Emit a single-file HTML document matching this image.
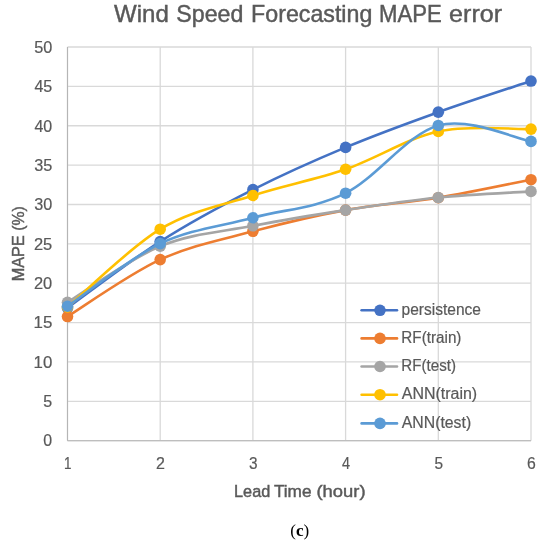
<!DOCTYPE html>
<html lang="en"><head><meta charset="utf-8"><title>Wind Speed Forecasting MAPE error</title>
<style>
html,body{margin:0;padding:0;background:#fff;}
body{width:550px;height:547px;overflow:hidden;}
svg{display:block;font-family:"Liberation Sans",sans-serif;}
svg text{stroke:#595959;stroke-width:0.2px;}
svg text.b{stroke-width:0.45px;}
svg text.cap{stroke:none;}
</style></head><body>
<svg width="550" height="547" viewBox="0 0 550 547">
<rect width="550" height="547" fill="#fff"/>
<g stroke="#d9d9d9" stroke-width="1.3" fill="none">
<line x1="67.50" y1="440.70" x2="531.00" y2="440.70"/>
<line x1="67.50" y1="401.33" x2="531.00" y2="401.33"/>
<line x1="67.50" y1="361.96" x2="531.00" y2="361.96"/>
<line x1="67.50" y1="322.59" x2="531.00" y2="322.59"/>
<line x1="67.50" y1="283.22" x2="531.00" y2="283.22"/>
<line x1="67.50" y1="243.85" x2="531.00" y2="243.85"/>
<line x1="67.50" y1="204.48" x2="531.00" y2="204.48"/>
<line x1="67.50" y1="165.11" x2="531.00" y2="165.11"/>
<line x1="67.50" y1="125.74" x2="531.00" y2="125.74"/>
<line x1="67.50" y1="86.37" x2="531.00" y2="86.37"/>
<line x1="67.50" y1="47.00" x2="531.00" y2="47.00"/>
<line x1="67.50" y1="47.00" x2="67.50" y2="440.70"/>
<line x1="160.20" y1="47.00" x2="160.20" y2="440.70"/>
<line x1="252.90" y1="47.00" x2="252.90" y2="440.70"/>
<line x1="345.60" y1="47.00" x2="345.60" y2="440.70"/>
<line x1="438.30" y1="47.00" x2="438.30" y2="440.70"/>
<line x1="531.00" y1="47.00" x2="531.00" y2="440.70"/>
</g>
<g stroke="#b5b5b5" stroke-width="1.05" fill="none">
<line x1="67.50" y1="47.00" x2="67.50" y2="440.70"/>
<line x1="67.50" y1="440.70" x2="531.00" y2="440.70"/>
</g>
<path d="M67.50,307.88 C82.95,296.82 129.30,261.24 160.20,241.54 C191.10,221.84 222.00,205.36 252.90,189.67 C283.80,173.97 314.70,160.30 345.60,147.38 C376.50,134.46 407.40,123.22 438.30,112.17 C469.20,101.11 515.55,86.23 531.00,81.04" fill="none" stroke="#4472c4" stroke-width="2.60" stroke-linecap="round" stroke-linejoin="round"/>
<circle cx="67.50" cy="307.88" r="5.80" fill="#4472c4"/>
<circle cx="160.20" cy="241.54" r="5.80" fill="#4472c4"/>
<circle cx="252.90" cy="189.67" r="5.80" fill="#4472c4"/>
<circle cx="345.60" cy="147.38" r="5.80" fill="#4472c4"/>
<circle cx="438.30" cy="112.17" r="5.80" fill="#4472c4"/>
<circle cx="531.00" cy="81.04" r="5.80" fill="#4472c4"/>
<path d="M67.50,316.53 C82.95,307.04 129.30,273.82 160.20,259.62 C191.10,245.42 222.00,239.58 252.90,231.32 C283.80,223.07 314.70,215.71 345.60,210.10 C376.50,204.50 407.40,202.75 438.30,197.68 C469.20,192.61 515.55,182.68 531.00,179.68" fill="none" stroke="#ed7d31" stroke-width="2.60" stroke-linecap="round" stroke-linejoin="round"/>
<circle cx="67.50" cy="316.53" r="5.80" fill="#ed7d31"/>
<circle cx="160.20" cy="259.62" r="5.80" fill="#ed7d31"/>
<circle cx="252.90" cy="231.32" r="5.80" fill="#ed7d31"/>
<circle cx="345.60" cy="210.10" r="5.80" fill="#ed7d31"/>
<circle cx="438.30" cy="197.68" r="5.80" fill="#ed7d31"/>
<circle cx="531.00" cy="179.68" r="5.80" fill="#ed7d31"/>
<path d="M67.50,302.30 C82.95,292.96 129.30,259.00 160.20,246.26 C191.10,233.51 222.00,231.85 252.90,225.82 C283.80,219.80 314.70,214.82 345.60,210.10 C376.50,205.39 407.40,200.64 438.30,197.53 C469.20,194.41 515.55,192.42 531.00,191.40" fill="none" stroke="#a5a5a5" stroke-width="2.60" stroke-linecap="round" stroke-linejoin="round"/>
<circle cx="67.50" cy="302.30" r="5.80" fill="#a5a5a5"/>
<circle cx="160.20" cy="246.26" r="5.80" fill="#a5a5a5"/>
<circle cx="252.90" cy="225.82" r="5.80" fill="#a5a5a5"/>
<circle cx="345.60" cy="210.10" r="5.80" fill="#a5a5a5"/>
<circle cx="438.30" cy="197.53" r="5.80" fill="#a5a5a5"/>
<circle cx="531.00" cy="191.40" r="5.80" fill="#a5a5a5"/>
<path d="M67.50,307.02 C82.95,294.05 129.30,247.79 160.20,229.20 C191.10,210.61 222.00,205.48 252.90,195.48 C283.80,185.49 314.70,179.89 345.60,169.23 C376.50,158.57 407.40,138.18 438.30,131.50 C469.20,124.82 515.55,129.54 531.00,129.14" fill="none" stroke="#ffc000" stroke-width="2.60" stroke-linecap="round" stroke-linejoin="round"/>
<circle cx="67.50" cy="307.02" r="5.80" fill="#ffc000"/>
<circle cx="160.20" cy="229.20" r="5.80" fill="#ffc000"/>
<circle cx="252.90" cy="195.48" r="5.80" fill="#ffc000"/>
<circle cx="345.60" cy="169.23" r="5.80" fill="#ffc000"/>
<circle cx="438.30" cy="131.50" r="5.80" fill="#ffc000"/>
<circle cx="531.00" cy="129.14" r="5.80" fill="#ffc000"/>
<path d="M67.50,306.23 C82.95,295.80 129.30,258.41 160.20,243.66 C191.10,228.91 222.00,226.14 252.90,217.73 C283.80,209.32 314.70,208.58 345.60,193.20 C376.50,177.82 407.40,134.08 438.30,125.45 C469.20,116.82 515.55,138.75 531.00,141.41" fill="none" stroke="#5b9bd5" stroke-width="2.60" stroke-linecap="round" stroke-linejoin="round"/>
<circle cx="67.50" cy="306.23" r="5.80" fill="#5b9bd5"/>
<circle cx="160.20" cy="243.66" r="5.80" fill="#5b9bd5"/>
<circle cx="252.90" cy="217.73" r="5.80" fill="#5b9bd5"/>
<circle cx="345.60" cy="193.20" r="5.80" fill="#5b9bd5"/>
<circle cx="438.30" cy="125.45" r="5.80" fill="#5b9bd5"/>
<circle cx="531.00" cy="141.41" r="5.80" fill="#5b9bd5"/>
<line x1="361.6" y1="310.30" x2="397.0" y2="310.30" stroke="#4472c4" stroke-width="2.60" stroke-linecap="round"/>
<circle cx="380.0" cy="310.30" r="5.80" fill="#4472c4"/>
<text x="401.60" y="314.70" font-size="15.60" fill="#595959" textLength="79.39" lengthAdjust="spacingAndGlyphs">persistence</text>
<line x1="361.6" y1="338.40" x2="397.0" y2="338.40" stroke="#ed7d31" stroke-width="2.60" stroke-linecap="round"/>
<circle cx="380.0" cy="338.40" r="5.80" fill="#ed7d31"/>
<text x="401.35" y="342.80" font-size="15.60" fill="#595959" textLength="60.09" lengthAdjust="spacingAndGlyphs">RF(train)</text>
<line x1="361.6" y1="366.50" x2="397.0" y2="366.50" stroke="#a5a5a5" stroke-width="2.60" stroke-linecap="round"/>
<circle cx="380.0" cy="366.50" r="5.80" fill="#a5a5a5"/>
<text x="401.36" y="370.90" font-size="15.60" fill="#595959" textLength="54.58" lengthAdjust="spacingAndGlyphs">RF(test)</text>
<line x1="361.6" y1="394.70" x2="397.0" y2="394.70" stroke="#ffc000" stroke-width="2.60" stroke-linecap="round"/>
<circle cx="380.0" cy="394.70" r="5.80" fill="#ffc000"/>
<text x="401.77" y="399.10" font-size="15.60" fill="#595959" textLength="75.42" lengthAdjust="spacingAndGlyphs">ANN(train)</text>
<line x1="361.6" y1="423.40" x2="397.0" y2="423.40" stroke="#5b9bd5" stroke-width="2.60" stroke-linecap="round"/>
<circle cx="380.0" cy="423.40" r="5.80" fill="#5b9bd5"/>
<text x="401.77" y="427.80" font-size="15.60" fill="#595959" textLength="69.41" lengthAdjust="spacingAndGlyphs">ANN(test)</text>
<text x="43.38" y="446.40" font-size="15.60" fill="#595959" textLength="8.84" lengthAdjust="spacingAndGlyphs">0</text>
<text x="43.36" y="407.07" font-size="15.60" fill="#595959" textLength="8.91" lengthAdjust="spacingAndGlyphs">5</text>
<text x="33.52" y="367.74" font-size="15.60" fill="#595959" textLength="18.74" lengthAdjust="spacingAndGlyphs">10</text>
<text x="33.51" y="328.41" font-size="15.60" fill="#595959" textLength="18.80" lengthAdjust="spacingAndGlyphs">15</text>
<text x="33.97" y="289.08" font-size="15.60" fill="#595959" textLength="18.27" lengthAdjust="spacingAndGlyphs">20</text>
<text x="33.97" y="249.75" font-size="15.60" fill="#595959" textLength="18.32" lengthAdjust="spacingAndGlyphs">25</text>
<text x="34.18" y="210.42" font-size="15.60" fill="#595959" textLength="18.05" lengthAdjust="spacingAndGlyphs">30</text>
<text x="34.18" y="171.09" font-size="15.60" fill="#595959" textLength="18.10" lengthAdjust="spacingAndGlyphs">35</text>
<text x="34.43" y="131.76" font-size="15.60" fill="#595959" textLength="17.79" lengthAdjust="spacingAndGlyphs">40</text>
<text x="34.43" y="92.43" font-size="15.60" fill="#595959" textLength="17.84" lengthAdjust="spacingAndGlyphs">45</text>
<text x="34.15" y="53.10" font-size="15.60" fill="#595959" textLength="18.09" lengthAdjust="spacingAndGlyphs">50</text>
<text x="63.98" y="469.30" font-size="15.60" fill="#595959" textLength="7.48" lengthAdjust="spacingAndGlyphs">1</text>
<text x="156.14" y="469.30" font-size="15.60" fill="#595959" textLength="8.91" lengthAdjust="spacingAndGlyphs">2</text>
<text x="249.06" y="469.30" font-size="15.60" fill="#595959" textLength="8.56" lengthAdjust="spacingAndGlyphs">3</text>
<text x="342.02" y="469.30" font-size="15.60" fill="#595959" textLength="8.06" lengthAdjust="spacingAndGlyphs">4</text>
<text x="434.43" y="469.30" font-size="15.60" fill="#595959" textLength="8.56" lengthAdjust="spacingAndGlyphs">5</text>
<text x="526.95" y="469.30" font-size="15.60" fill="#595959" textLength="8.80" lengthAdjust="spacingAndGlyphs">6</text>
<text class="b" y="496.60" font-size="17.10" fill="#595959"><tspan x="234.07" textLength="36.18" lengthAdjust="spacingAndGlyphs">Lead</tspan> <tspan x="273.92" textLength="37.63" lengthAdjust="spacingAndGlyphs">Time</tspan> <tspan x="316.46" textLength="49.08" lengthAdjust="spacingAndGlyphs">(hour)</tspan></text>
<text class="b" transform="translate(23.5,279.90) rotate(-90)" y="0.00" font-size="17.10" fill="#595959"><tspan x="-1.33" textLength="45.93" lengthAdjust="spacingAndGlyphs">MAPE</tspan> <tspan x="49.12" textLength="24.67" lengthAdjust="spacingAndGlyphs">(%)</tspan></text>
<text class="b" y="22.00" font-size="24.30" fill="#595959"><tspan x="114.09" textLength="54.75" lengthAdjust="spacingAndGlyphs">Wind</tspan> <tspan x="176.35" textLength="67.05" lengthAdjust="spacingAndGlyphs">Speed</tspan> <tspan x="251.10" textLength="121.20" lengthAdjust="spacingAndGlyphs">Forecasting</tspan> <tspan x="378.98" textLength="62.77" lengthAdjust="spacingAndGlyphs">MAPE</tspan> <tspan x="449.14" textLength="52.88" lengthAdjust="spacingAndGlyphs">error</tspan></text>
<text x="299.7" y="536.2" font-size="17" fill="#000" text-anchor="middle" font-family="'Liberation Serif', serif" class="cap">(<tspan font-weight="bold">c</tspan>)</text>
</svg>
</body></html>
